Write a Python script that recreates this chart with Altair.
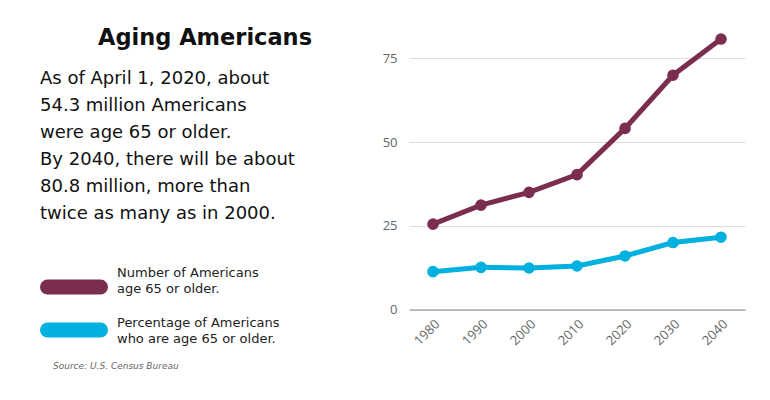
import altair as alt
import pandas as pd

years = ["1980", "1990", "2000", "2010", "2020", "2030", "2040"]
number_millions = [25.5, 31.2, 35.0, 40.3, 54.1, 70.0, 80.8]
percent_65 = [11.3, 12.6, 12.4, 13.0, 16.0, 20.0, 21.6]
series_names = ["Number of Americans age 65 or older.", "Percentage of Americans who are age 65 or older."]
series_colors = ["#7b2d50", "#00b0df"]

rows = []
for y, n, p in zip(years, number_millions, percent_65):
    rows.append({"year": y, "value": n, "series": series_names[0]})
    rows.append({"year": y, "value": p, "series": series_names[1]})
df = pd.DataFrame(rows)

title_text = "Aging Americans"
body_lines = [
    "As of April 1, 2020, about",
    "54.3 million Americans",
    "were age 65 or older.",
    "By 2040, there will be about",
    "80.8 million, more than",
    "twice as many as in 2000.",
]
legend1 = ["Number of Americans", "age 65 or older."]
legend2 = ["Percentage of Americans", "who are age 65 or older."]
source_text = "Source: U.S. Census Bureau"

TEXT_FONT = "DejaVu Sans"

color = alt.Color("series:N", scale=alt.Scale(domain=series_names, range=series_colors), legend=None)
x = alt.X("year:O", scale=alt.Scale(type="point", padding=0.5),
          axis=alt.Axis(title=None, labelAngle=-45, labelColor="#666", labelFont="Open Sans",
                        labelFontSize=13, ticks=False, domain=True, domainColor="#888",
                        labelPadding=8, grid=False))
y = alt.Y("value:Q", scale=alt.Scale(domain=[0, 85], nice=False),
          axis=alt.Axis(title=None, values=[0, 25, 50, 75], labelColor="#666", labelFont="Open Sans",
                        labelFontSize=13, ticks=False, domain=False, gridColor="#dddddd",
                        labelPadding=12))

base = alt.Chart(df)
lines = base.mark_line(strokeWidth=5).encode(x=x, y=y, color=color)
points = base.mark_circle(size=135, opacity=1).encode(x=x, y=y, color=color)

one = pd.DataFrame({"a": [0]})
def txt(value, xp, yp, **kw):
    return alt.Chart(one).mark_text(**kw).encode(x=alt.value(xp), y=alt.value(yp), text=alt.value(value))

OX, OY = 409, 25
title = txt(title_text, 205 - OX, 38 - OY, font=TEXT_FONT, fontSize=22.5, fontWeight="bold",
            align="center", baseline="middle", color="#111")
body = txt(body_lines, 40 - OX, 70 - OY, font=TEXT_FONT, fontSize=18, align="left",
           baseline="top", lineHeight=27, color="#111")
leg_t1 = txt(legend1, 117 - OX, 267 - OY, font=TEXT_FONT, fontSize=13, align="left",
             baseline="top", lineHeight=16, color="#222")
leg_t2 = txt(legend2, 117 - OX, 317 - OY, font=TEXT_FONT, fontSize=13, align="left",
             baseline="top", lineHeight=16, color="#222")
src = txt(source_text, 53 - OX, 366 - OY, font=TEXT_FONT, fontSize=9, fontStyle="italic",
          align="left", baseline="middle", color="#666")

sw1 = alt.Chart(one).mark_rule(strokeWidth=15, strokeCap="round", color=series_colors[0]).encode(
    x=alt.value(47.5 - OX), x2=alt.value(100.5 - OX), y=alt.value(287 - OY))
sw2 = alt.Chart(one).mark_rule(strokeWidth=15, strokeCap="round", color=series_colors[1]).encode(
    x=alt.value(47.5 - OX), x2=alt.value(100.5 - OX), y=alt.value(330 - OY))

chart = alt.layer(lines, points, title, body, leg_t1, leg_t2, src, sw1, sw2).properties(
    width=336, height=284.5,
    autosize=alt.AutoSizeParams(type="none"),
    padding={"left": 401, "top": 17, "right": 17, "bottom": 75},
).configure(background="white").configure_view(stroke=None)

chart.save("out.html", embed_options={"renderer": "svg", "actions": False})
